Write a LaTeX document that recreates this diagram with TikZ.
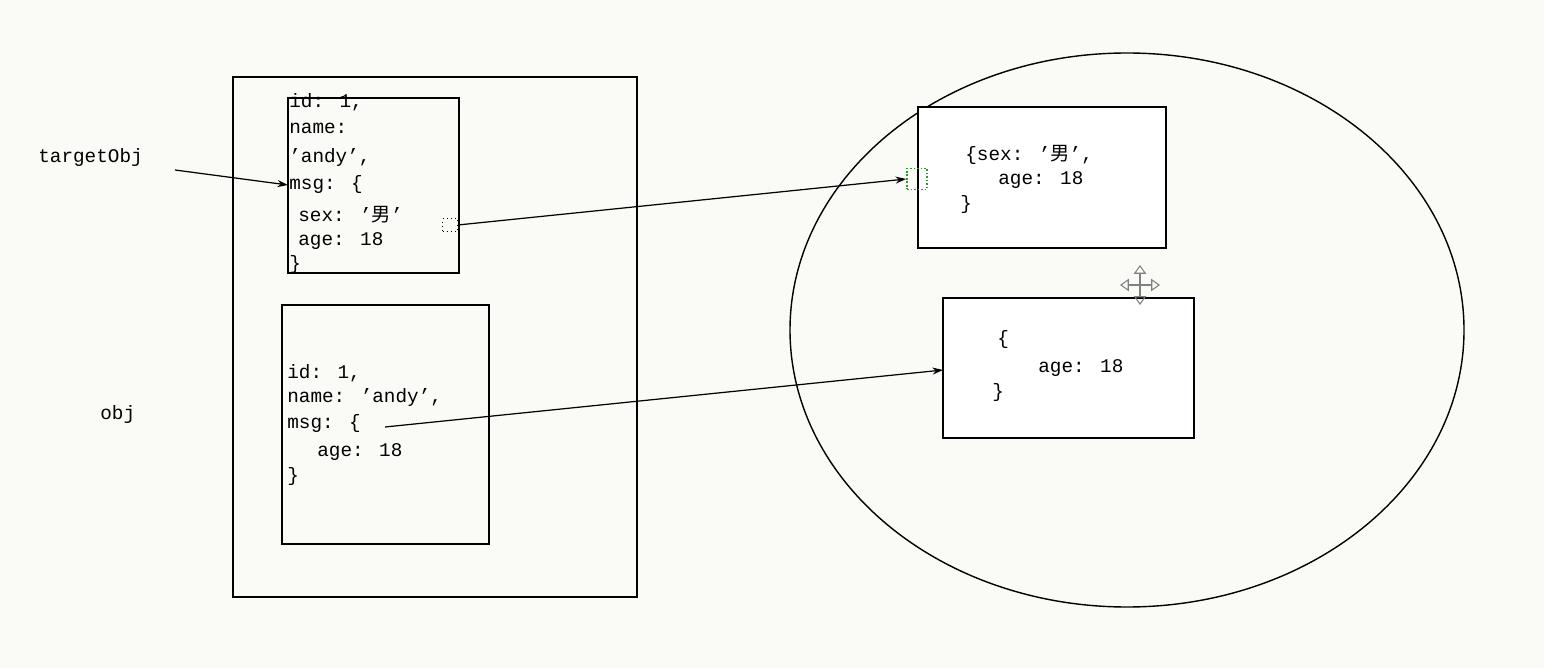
\documentclass[tikz,border=0pt]{standalone}
\usepackage{fontspec}
\setmainfont{Liberation Mono}
\newfontfamily\cjk{Noto Sans CJK SC}
\usetikzlibrary{arrows.meta}
\definecolor{bg}{HTML}{FAFAF7}
\definecolor{grn}{HTML}{2E9A2E}
\begin{document}
\begin{tikzpicture}[x=0.02cm,y=-0.02cm,
  txt/.style={anchor=west,inner sep=0pt,font=\fontsize{11}{13}\selectfont},
  box/.style={draw,line width=0.8pt},
  arr/.style={-{Stealth[length=6pt,width=4pt]},line width=0.7pt}]
\fill[bg] (0,0) rectangle (1544,668);
\useasboundingbox (0,0) rectangle (1544,668);
\draw[box] (233,77) rectangle (637,597);
\draw[box] (288,98) rectangle (459,273);
\draw[box] (282,305) rectangle (489,544);
\draw[box] (1127,330) ellipse [x radius=337, y radius=277];
\draw[box,fill=white] (918,107) rectangle (1166,248);
\draw[box,fill=white] (943,298) rectangle (1194,438);
% top box text
\node[txt] (t1) at (289,102) {id: 1,};
\node[txt] at (289,128) {name:};
\node[txt] at (289,158) {'andy',};
\node[txt] (tmsg) at (289,185) {msg: \{};
\node[txt] at (298,215) {sex: '{\cjk 男}'};
\node[txt] at (298,241) {age: 18};
\node[txt] at (289,265) {\}};
% bottom box text
\node[txt] at (287,373) {id: 1,};
\node[txt] at (287,398) {name: 'andy',};
\node[txt] (bmsg) at (287,424) {msg: \{};
\node[txt] at (317,452) {age: 18};
\node[txt] at (287,477) {\}};
% right top text
\node[txt] at (965,155) {\{sex: '{\cjk 男}',};
\node[txt] at (998,180) {age: 18};
\node[txt] at (960,205) {\}};
% right bottom text
\node[txt] at (997,340) {\{};
\node[txt] at (1038,368) {age: 18};
\node[txt] at (992,393) {\}};
% labels
\node[txt] (tobj) at (38,158) {targetObj};
\node[txt] at (100,415) {obj};
% small boxes
\node[draw,dotted,minimum width=0.3cm,minimum height=0.26cm,inner sep=0pt] (s1) at (450,225) {};
\node[draw=grn,densely dotted,line width=1pt,minimum width=0.4cm,minimum height=0.42cm,inner sep=0pt] (s2) at (917,179) {};
\coordinate (tg) at (288,185);
\coordinate (tsrc) at (175,170);
\coordinate (bsrc) at (385,427);
\coordinate (bdst) at (943,370);
\draw[arr] (tsrc) -- (tg);
\draw[arr] (s1.east) -- (s2.west);
\draw[arr] (bsrc) -- (bdst);
% move cursor
\begin{scope}[shift={(1140,285)},gray,line width=0.6pt]
\draw[-{Triangle[open,length=5pt,width=7pt]}] (0,0) -- (0,-20);
\draw[-{Triangle[open,length=5pt,width=7pt]}] (0,0) -- (0,20);
\draw[-{Triangle[open,length=5pt,width=7pt]}] (0,0) -- (-20,0);
\draw[-{Triangle[open,length=5pt,width=7pt]}] (0,0) -- (20,0);
\end{scope}
\end{tikzpicture}
\end{document}
